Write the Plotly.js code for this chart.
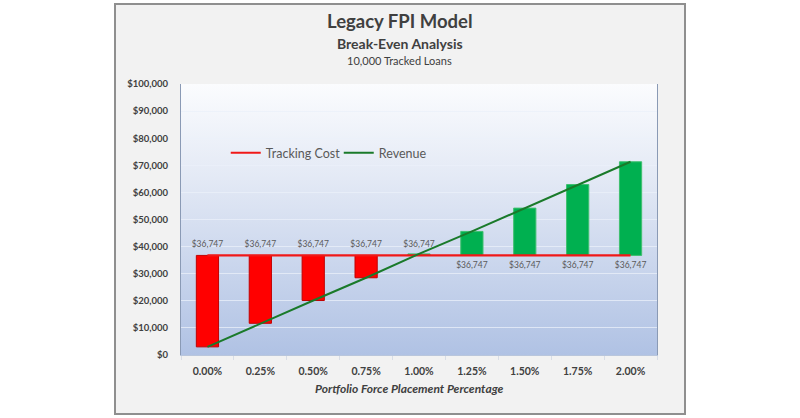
<!DOCTYPE html>
<html>
<head>
<meta charset="utf-8">
<script src="https://cdn.plot.ly/plotly-3.0.1.min.js"></script>
<style>
  html, body { margin: 0; padding: 0; background: #ffffff; width: 800px; height: 418px; overflow: hidden; }
  #chart { position: absolute; left: 114px; top: 3px; width: 568px; height: 408px; border: 2px solid #8f8f8f; }
</style>
</head>
<body>
<div id="chart"></div>
<script>
const categories = ['0.00%', '0.25%', '0.50%', '0.75%', '1.00%', '1.25%', '1.50%', '1.75%', '2.00%'];
const trackingCost = [36747, 36747, 36747, 36747, 36747, 36747, 36747, 36747, 36747];
const revenue = [3000, 11700, 20100, 28500, 37300, 45600, 54200, 62900, 71300];
const costLabels = ['$36,747', '$36,747', '$36,747', '$36,747', '$36,747', '$36,747', '$36,747', '$36,747', '$36,747'];
const yTickVals = [0, 10000, 20000, 30000, 40000, 50000, 60000, 70000, 80000, 90000, 100000];
const yTickText = ['$0', '$10,000', '$20,000', '$30,000', '$40,000', '$50,000', '$60,000', '$70,000', '$80,000', '$90,000', '$100,000'];

const FONT = 'Lato, "Open Sans", sans-serif';

const base = revenue.map((r, i) => Math.min(r, trackingCost[i]));
const diff = revenue.map((r, i) => Math.abs(r - trackingCost[i]));
const barColors = revenue.map((r, i) => r < trackingCost[i] ? '#ff0000' : '#00b050');
const barLines = revenue.map((r, i) => r < trackingCost[i] ? '#c00000' : '#3fbf6f');
const labelPos = revenue.map((r, i) => r <= trackingCost[i] + 1000 ? 'top center' : 'bottom center');

const gradSvg = '<svg xmlns="http://www.w3.org/2000/svg" width="100" height="100" preserveAspectRatio="none">' +
  '<defs><linearGradient id="g" x1="0" y1="0" x2="0" y2="1">' +
  '<stop offset="0" stop-color="#fbfcfe"/><stop offset="0.35" stop-color="#e3e9f5"/><stop offset="1" stop-color="#b0c2e4"/>' +
  '</linearGradient></defs><rect width="100" height="100" fill="url(#g)"/></svg>';
const gradUri = 'data:image/svg+xml;charset=utf-8,' + encodeURIComponent(gradSvg);

const traces = [
  {
    type: 'bar', x: categories, y: diff, base: base, width: 0.42,
    marker: { color: barColors, line: { color: barLines, width: 1 } },
    showlegend: false, hoverinfo: 'skip'
  },
  {
    type: 'scatter', mode: 'lines+markers+text', name: 'Tracking Cost',
    x: categories, y: trackingCost, text: costLabels, textposition: labelPos,
    textfont: { family: FONT, size: 8.5, color: '#595959' },
    marker: { size: 9, color: 'rgba(0,0,0,0)', line: { width: 0, color: 'rgba(0,0,0,0)' } },
    line: { color: '#f01818', width: 2.2 }, cliponaxis: false
  },
  {
    type: 'scatter', mode: 'lines', name: 'Revenue',
    x: categories, y: revenue,
    line: { color: '#1a7a2a', width: 2 }
  }
];

const layout = {
  width: 568, height: 408,
  margin: { l: 65, r: 27, t: 79, b: 58 },
  paper_bgcolor: '#f2f2f2',
  plot_bgcolor: 'rgba(0,0,0,0)',
  font: { family: FONT, color: '#404040' },
  showlegend: true,
  legend: {
    orientation: 'h', x: 0.094, y: 0.745, xanchor: 'left', yanchor: 'middle',
    bgcolor: 'rgba(0,0,0,0)', font: { family: FONT, size: 12.5, color: '#595959' },
    entrywidth: 68, entrywidthmode: 'pixels', tracegroupgap: 0
  },
  xaxis: {
    type: 'category', categoryorder: 'array', categoryarray: categories,
    showgrid: false, zeroline: false,
    showline: true, linecolor: '#b9c6dc', linewidth: 1,
    ticks: 'outside', tickson: 'boundaries', ticklen: 4, tickcolor: '#d8dde6',
    tickfont: { family: FONT, size: 10.5, color: '#404040', weight: 'bold' },
    ticklabelstandoff: 6,
    range: [-0.5, 8.5], fixedrange: true
  },
  yaxis: {
    range: [0, 100000], tickvals: yTickVals, ticktext: yTickText,
    showgrid: true, gridcolor: 'rgba(235,240,250,0.75)', gridwidth: 1,
    zeroline: false, showline: true, mirror: true, linecolor: '#8a9ab5', linewidth: 1,
    ticks: '', tickfont: { family: FONT, size: 9.5, color: '#404040', weight: 'bold' },
    ticklabelstandoff: 10, fixedrange: true
  },
  images: [{
    source: gradUri, xref: 'paper', yref: 'paper', x: 0, y: 1, sizex: 1, sizey: 1,
    xanchor: 'left', yanchor: 'top', sizing: 'stretch', layer: 'below'
  }],
  annotations: [
    { text: 'Legacy FPI Model', xref: 'paper', yref: 'paper', x: 0.46, y: 1.232, showarrow: false,
      xanchor: 'center', yanchor: 'middle', font: { family: FONT, size: 18.5, color: '#404040', weight: 'bold' } },
    { text: 'Break-Even Analysis', xref: 'paper', yref: 'paper', x: 0.46, y: 1.148, showarrow: false,
      xanchor: 'center', yanchor: 'middle', font: { family: FONT, size: 14, color: '#404040', weight: 'bold' } },
    { text: '10,000 Tracked Loans', xref: 'paper', yref: 'paper', x: 0.46, y: 1.085, showarrow: false,
      xanchor: 'center', yanchor: 'middle', font: { family: FONT, size: 11, color: '#404040' } },
    { text: '<i>Portfolio Force Placement Percentage</i>', xref: 'paper', yref: 'paper', x: 0.481, y: -0.125, showarrow: false,
      xanchor: 'center', yanchor: 'middle', font: { family: FONT, size: 12, color: '#404040', weight: 'bold' } }
  ]
};

Plotly.newPlot('chart', traces, layout, { displayModeBar: false, staticPlot: true });
</script>
</body>
</html>
